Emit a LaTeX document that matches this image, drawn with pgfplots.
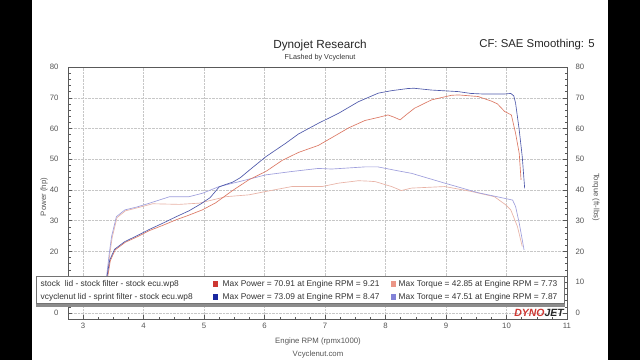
\documentclass[border=0pt]{standalone}
\usepackage{fontspec}
\setmainfont{Liberation Sans}
\usepackage{pgfplots}
\pgfplotsset{compat=1.18}
\definecolor{pblue}{RGB}{78,88,170}
\definecolor{pred}{RGB}{220,120,100}
\definecolor{tblue}{RGB}{158,158,220}
\definecolor{tred}{RGB}{232,178,165}
\definecolor{sqred}{RGB}{205,55,50}
\definecolor{sqblue}{RGB}{25,40,160}
\definecolor{sqpink}{RGB}{235,150,135}
\definecolor{sqlav}{RGB}{130,130,215}
\definecolor{labgray}{RGB}{85,85,85}
\begin{document}
\begin{tikzpicture}[x=1bp,y=1bp]
\useasboundingbox (0,0) rectangle (640,360);
\fill[black] (0,0) rectangle (640,360);
\fill[white] (32,0) rectangle (608,360);
\begin{axis}[
  at={(68bp,41bp)}, anchor=south west, scale only axis,
  width=499bp, height=252bp,
  xmin=2.75, xmax=11, ymin=-2, ymax=80,
  xtick={3,4,...,11}, ytick={0,10,...,80},
  yticklabels={0,,20,30,40,50,60,70,80},
  minor x tick num=3, minor y tick num=4,
  xtick pos=lower, ytick pos=left,
  grid=major, major grid style={densely dotted, black!22},
  tick align=inside, major tick length=4bp, minor tick length=2.5bp,
  every tick/.style={black!65},
  axis line style={black!65},
  tick label style={font=\fontsize{7.8}{9}\selectfont, text=labgray},
  yticklabel style={xshift=-6bp},
  xticklabel style={yshift=-1bp},
  /pgf/number format/assume math mode=true,
  ylabel={Power (hp)},
  ylabel style={at={(axis description cs:-0.048,0.484)}, anchor=center, font=\fontsize{7.8}{9}\selectfont, text=labgray},
  clip=true,
]
% stock torque
\addplot[tred, line width=0.65bp] coordinates {
(3.37,3) (3.39,11) (3.44,19) (3.48,24.5) (3.56,31) (3.70,33.2) (3.90,34.2) (4.15,35.5)
(4.59,35.3) (4.92,35.7) (5.36,37.8) (5.74,38.4) (6.02,39.5) (6.45,41.1) (6.95,41.1)
(7.22,42.2) (7.55,43.0) (7.73,42.85) (7.83,42.7) (8.10,41.1) (8.26,39.8) (8.43,40.6)
(8.98,41.1) (9.42,39.5) (9.80,37.8) (9.99,35.1) (10.07,33.5) (10.18,28.1) (10.26,21.6)};
% vcyclenut torque
\addplot[tblue, line width=0.65bp] coordinates {
(3.36,3) (3.385,11.3) (3.43,19) (3.47,24.8) (3.55,31.3) (3.69,33.5) (3.88,34.4) (4.10,35.7)
(4.43,37.8) (4.75,37.8) (4.97,38.9) (5.25,41.1) (5.58,42.7) (6.02,44.9) (6.45,46.0)
(6.89,47.0) (7.11,46.8) (7.66,47.5) (7.87,47.51) (8.21,46.2) (8.43,45.4) (8.98,42.2)
(9.53,39.1) (9.96,37.3) (10.10,36.7) (10.15,34.6) (10.21,29.2) (10.29,20.5)};
% stock power
\addplot[pred, line width=0.65bp] coordinates {
(3.37,3) (3.40,11) (3.45,17) (3.53,20.5) (3.70,23) (3.90,24.8) (4.10,26.8) (4.32,28.5)
(4.54,30.3) (4.75,31.8) (4.97,33.5) (5.19,35.8) (5.47,39.8) (5.74,43.3) (6.02,46.0)
(6.29,49.6) (6.56,52.2) (6.89,54.5) (7.11,57.0) (7.39,60.2) (7.66,62.6) (7.88,63.6)
(8.04,64.4) (8.15,63.6) (8.24,62.8) (8.35,64.6) (8.48,66.6) (8.76,69.3) (9.09,70.8)
(9.21,70.91) (9.53,70.4) (9.75,68.9) (9.85,68.0) (9.97,65.5) (10.08,64.4) (10.15,58.4)
(10.21,51.9) (10.24,43.3)};
% vcyclenut power
\addplot[pblue, line width=0.65bp] coordinates {
(3.36,3) (3.39,11.3) (3.44,17.2) (3.52,20.7) (3.69,23.2) (3.88,25.0) (4.10,27.2) (4.32,29.2)
(4.54,31.3) (4.75,33.2) (4.95,35.5) (5.10,37.5) (5.25,41.0) (5.36,41.8) (5.47,42.5)
(5.60,44.0) (5.74,46.3) (6.02,50.8) (6.35,55.2) (6.56,58.2) (6.89,61.7) (7.22,64.9)
(7.55,68.7) (7.88,71.5) (8.10,72.3) (8.37,73.0) (8.47,73.09) (8.76,72.5) (9.20,72.0)
(9.41,71.4) (9.63,71.2) (9.96,71.2) (10.07,71.4) (10.12,70.6) (10.15,68.2) (10.21,59.5)
(10.26,50.8) (10.30,40.5)};
\end{axis}
\begin{axis}[
  at={(68bp,41bp)}, anchor=south west, scale only axis,
  width=499bp, height=252bp,
  xmin=2.75, xmax=11, ymin=-2, ymax=80,
  axis x line=none, axis y line*=right,
  ytick={0,10,...,80}, minor y tick num=4,
  tick align=inside, major tick length=4bp, minor tick length=2.5bp,
  every tick/.style={black!65},
  axis line style={black!65},
  tick label style={font=\fontsize{7.8}{9}\selectfont, text=labgray},
  yticklabel style={xshift=5bp},
  /pgf/number format/assume math mode=true,
  ylabel={Torque (ft-lbs)},
  ylabel style={at={(axis description cs:1.058,0.484)}, anchor=center, rotate=180, font=\fontsize{7.8}{9}\selectfont, text=labgray},
]
\addplot[draw=none] coordinates {(3,0)};
\end{axis}
% legend box
\fill[black!45] (36,53.5) rectangle (565,57);
\draw[black!55, fill=white] (36,57) rectangle (564,84);
\begin{scope}[every node/.style={font=\fontsize{8.4}{9}\selectfont, text=black!80, inner sep=0pt, anchor=west}]
\node at (40.5,76) {stock\ \ lid - stock filter - stock ecu.wp8};
\node at (40.5,63) {vcyclenut lid - sprint filter - stock ecu.wp8};
\fill[sqred] (213,73.5) rectangle (217.5,79);
\fill[sqblue] (213,60.5) rectangle (217.5,66);
\fill[sqpink] (391,73.5) rectangle (395.5,79);
\fill[sqlav] (391,60.5) rectangle (395.5,66);
\node at (222.5,76) {Max Power = 70.91 at Engine RPM = 9.21};
\node at (222.5,63) {Max Power = 73.09 at Engine RPM = 8.47};
\node at (398.5,76) {Max Torque = 42.85 at Engine RPM = 7.73};
\node at (398.5,63) {Max Torque = 47.51 at Engine RPM = 7.87};
\end{scope}
% dynojet logo
\node[anchor=east, inner sep=0pt, font=\fontsize{10.5}{10.5}\selectfont\bfseries\itshape] at (564,47) {\textcolor{sqred}{DYNO}\textcolor{black!85}{JET}};
% titles
\node[font=\fontsize{11.8}{13}\selectfont, text=black!85] at (320,315) {Dynojet Research};
\node[font=\fontsize{7.2}{8}\selectfont, text=black!80] at (320,302) {FLashed by Vcyclenut};
\node[font=\fontsize{11.4}{13}\selectfont, text=black!85] at (537,315) {CF: SAE Smoothing: 5};
\node[font=\fontsize{7.8}{9}\selectfont, text=labgray] at (318,19) {Engine RPM (rpmx1000)};
\node[font=\fontsize{7.8}{9}\selectfont, text=labgray] at (318,6) {Vcyclenut.com};
\end{tikzpicture}
\end{document}
